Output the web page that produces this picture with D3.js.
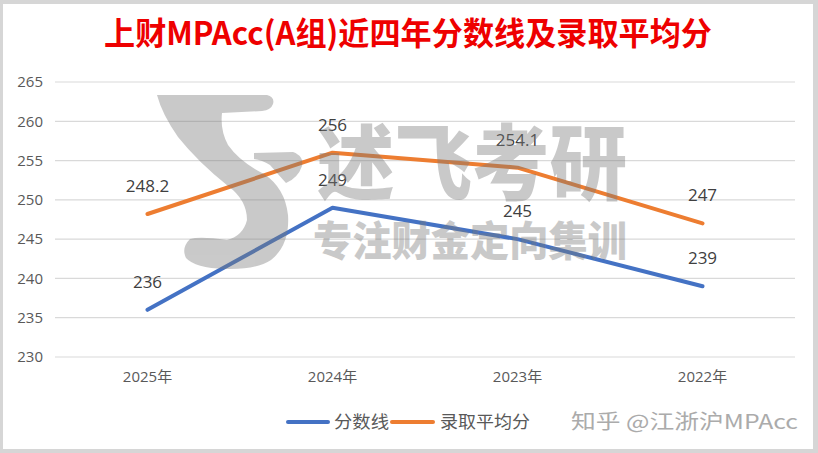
<!DOCTYPE html>
<html><head><meta charset="utf-8">
<script src="https://cdn.jsdelivr.net/npm/d3@7"></script>
<style>html,body{margin:0;padding:0;background:#fff;}svg{display:block;}</style>
</head><body>
<script>
const categories = ["2025年","2024年","2023年","2022年"];
const cutoff = [236, 249, 245, 239];
const avgAdmit = [248.2, 256, 254.1, 247];
const yTicks = [230,235,240,245,250,255,260,265];
const seriesNames = ["分数线","录取平均分"];
const title = "上财MPAcc(A组)近四年分数线及录取平均分";

const W = 818, H = 453;
const svg = d3.select("body").append("svg").attr("width", W).attr("height", H);
svg.append("rect").attr("width", W).attr("height", H).attr("fill", "#d6d6d6");
svg.append("rect").attr("x", 3).attr("y", 4).attr("width", 810).attr("height", 445).attr("fill", "#fff");

const x = d3.scaleBand().domain(categories).range([55, 795]);
const y = d3.scaleLinear().domain([230, 265]).range([357, 82]);
const font = "'Open Sans','Noto Sans CJK SC',sans-serif";

// title
svg.append("text").attr("x", 408).attr("y", 45).attr("text-anchor", "middle")
  .attr("font-family", "'Noto Sans CJK SC',sans-serif").attr("font-weight", 700)
  .attr("font-size", 32).attr("fill", "#ee0000")
  .attr("textLength", 608).attr("lengthAdjust", "spacingAndGlyphs").text(title);

// grid
const g = svg.append("g");
g.selectAll("line.grid").data(yTicks).join("line")
  .attr("x1", 55).attr("x2", 795).attr("y1", d => y(d)).attr("y2", d => y(d))
  .attr("stroke", "#d9d9d9").attr("stroke-width", 1.2);

// y axis labels
const yAxis = d3.axisLeft(y).tickValues(yTicks).tickSize(0).tickPadding(0);
const ya = svg.append("g").attr("transform", "translate(43,0)").call(yAxis);
ya.select(".domain").remove();
ya.selectAll("text").attr("font-family", font).attr("font-size", 15).attr("fill", "#595959");

// x axis labels
const xAxis = d3.axisBottom(x).tickSize(0).tickPadding(0);
const xa = svg.append("g").attr("transform", "translate(0,377)").call(xAxis);
xa.select(".domain").remove();
xa.selectAll("text").attr("font-family", font).attr("font-size", 15).attr("fill", "#595959").attr("dy", "0.3em");

const cx = c => x(c) + x.bandwidth() / 2;
const line = d3.line().x((d, i) => cx(categories[i])).y(d => y(d));

const series = [
  {name: seriesNames[0], values: cutoff, color: "#4472C4"},
  {name: seriesNames[1], values: avgAdmit, color: "#ED7D31"}
];
series.forEach(s => {
  svg.append("path").attr("d", line(s.values)).attr("fill", "none")
    .attr("stroke", s.color).attr("stroke-width", 4).attr("stroke-linecap", "round").attr("stroke-linejoin", "round");
});
series.forEach(s => {
  svg.selectAll(null).data(s.values).join("text")
    .attr("x", (d, i) => cx(categories[i])).attr("y", d => y(d) - 22)
    .attr("text-anchor", "middle").attr("font-family", font).attr("font-size", 17)
    .attr("fill", "#404040").text(d => d);
});

// watermark (semi-transparent overlay)
const wm = svg.append("g").attr("fill", "#7a7a7a").attr("opacity", 0.4);
wm.append("path").attr("d",
  "M157,95 L267,95 Q275,97 273,104 Q271,110 262,111 L222,113 Q220,130 228,145 Q240,162 264,174 Q285,188 288,215 Q290,245 271,260 Q256,270 225,269 Q195,268 186,258 Q181,248 190,239 Q200,236 227,240 Q243,236 247,220 Q247,200 228,186 Q198,162 178,137 Q162,114 157,95 Z");
wm.append("path").attr("d", "M254,153 L293,152 Q304,156 302,166 Q298,178 286,183 Q276,172 270,165 Q262,160 254,159 Z");
wm.append("text").attr("x", 317).attr("y", 193).attr("font-family", "'Noto Sans CJK SC',sans-serif")
  .attr("font-weight", 900).attr("font-size", 82).attr("textLength", 310).attr("lengthAdjust", "spacingAndGlyphs").text("述飞考研");
wm.append("text").attr("x", 313).attr("y", 256).attr("font-family", "'Noto Sans CJK SC',sans-serif")
  .attr("font-weight", 900).attr("font-size", 41).attr("textLength", 314).attr("lengthAdjust", "spacingAndGlyphs").text("专注财金定向集训");

// legend
const lg = svg.append("g");
const legendItems = [
  {x1: 288, x2: 328, tx: 334, tl: 55},
  {x1: 392, x2: 433, tx: 440, tl: 90}
];
series.forEach((s, i) => {
  const L = legendItems[i];
  lg.append("line").attr("x1", L.x1).attr("x2", L.x2).attr("y1", 422).attr("y2", 422)
    .attr("stroke", s.color).attr("stroke-width", 4).attr("stroke-linecap", "round");
  lg.append("text").attr("x", L.tx).attr("y", 428).attr("font-family", "'Noto Sans CJK SC',sans-serif")
    .attr("font-size", 17).attr("fill", "#595959").attr("textLength", L.tl).attr("lengthAdjust", "spacingAndGlyphs").text(s.name);
});

// zhihu watermark
svg.append("text").attr("x", 571).attr("y", 429).attr("font-family", "'Noto Sans CJK SC',sans-serif")
  .attr("font-size", 20).attr("fill", "#ababab").attr("textLength", 227).attr("lengthAdjust", "spacingAndGlyphs")
  .text("知乎 @江浙沪MPAcc");
</script>
</body></html>
